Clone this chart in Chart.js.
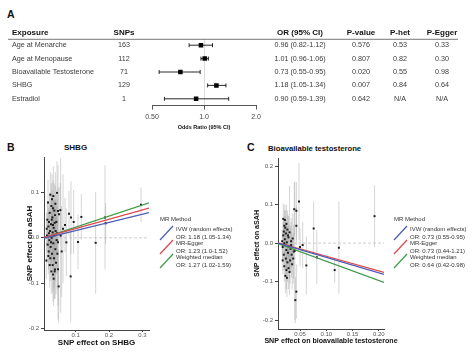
<!DOCTYPE html>
<html>
<head>
<meta charset="utf-8">
<script src="https://cdn.jsdelivr.net/npm/chart.js@4.4.0/dist/chart.umd.min.js"></script>
<style>
  body { margin: 0; background: #fff; width: 474px; height: 353px; overflow: hidden; position: relative;
         font-family: "Liberation Sans", Arial, sans-serif; }
  canvas { position: absolute; }
  .lbl { position: absolute; font-weight: bold; color: #111; line-height: 1; white-space: nowrap; }
</style>
</head>
<body>
<div class="lbl" style="left:7px;top:9px;font-size:10.5px">A</div>
<div class="lbl" style="left:7px;top:142px;font-size:10.5px">B</div>
<div class="lbl" style="left:247px;top:142px;font-size:10.5px">C</div>
<div class="lbl" style="left:64px;top:144px;font-size:8px">SHBG</div>
<div class="lbl" style="left:268px;top:145px;font-size:7.7px">Bioavailable testosterone</div>
<canvas id="forest" width="474" height="135" style="left:0;top:0"></canvas>
<canvas id="shbg" width="237" height="213" style="left:0;top:140px"></canvas>
<canvas id="testo" width="237" height="213" style="left:237px;top:140px"></canvas>
<script>
// ---- panel A: forest table ----
const exposures = ["Age at Menarche", "Age at Menopause", "Bioavailable Testosterone", "SHBG", "Estradiol"];
const snps = [163, 112, 71, 129, 1];
const orValues = [0.96, 1.01, 0.73, 1.18, 0.90];
const orLower = [0.82, 0.96, 0.55, 1.05, 0.59];
const orUpper = [1.12, 1.06, 0.95, 1.34, 1.39];
const pValues = ["0.576", "0.807", "0.020", "0.007", "0.642"];
const pHet = ["0.53", "0.82", "0.55", "0.84", "N/A"];
const pEgger = ["0.33", "0.30", "0.98", "0.64", "N/A"];
const headers = ["Exposure", "SNPs", "OR (95% CI)", "P-value", "P-het", "P-Egger"];
const forestTicks = [0.5, 1, 2];
const forestTickLabels = ["0.50", "1.0", "2.0"];

// ---- MR methods ----
const methods = ["IVW (random effects)", "MR-Egger", "Weighted median"];

// ---- panel B: SHBG ----
const shbgX = [0.296, 0.188, 0.190, 0.160, 0.117, 0.107, 0.094, 0.085, 0.086, 0.080, 0.072, 0.068, 0.054, 0.049, 0.044, 0.047, 0.037, 0.032, 0.055, 0.047, 0.062, 0.058,
  0.024, 0.017, 0.032, 0.047, 0.050, 0.037, 0.022, 0.012, 0.027,
  0.015, 0.018, 0.020, 0.021, 0.023, 0.025, 0.026, 0.028, 0.029, 0.030, 0.031, 0.033, 0.034, 0.035, 0.036, 0.038, 0.039, 0.040, 0.041, 0.042, 0.043,
  0.016, 0.019, 0.014, 0.013, 0.022, 0.024, 0.027, 0.029, 0.031, 0.034, 0.036, 0.026, 0.020, 0.018, 0.028, 0.032, 0.038, 0.044, 0.045, 0.039, 0.033];
const shbgY = [0.073, 0.045, 0.032, -0.011, 0.046, -0.009, 0.035, -0.085, 0.045, 0.053, -0.010, 0.028, 0.061, -0.107, 0.099, -0.069, -0.074, -0.081, 0.005, -0.010, 0.020, -0.030,
  0.095, 0.078, 0.065, 0.059, 0.052, 0.033, -0.060, -0.050, -0.074,
  0.040, 0.025, 0.010, -0.005, 0.015, -0.020, 0.030, 0.000, -0.035, 0.045, 0.012, -0.012, 0.022, -0.045, 0.005, 0.050, -0.025, 0.015, -0.055, 0.035, -0.005,
  -0.015, -0.030, 0.005, 0.020, 0.055, -0.045, 0.070, 0.085, -0.060, -0.090, 0.060, -0.010, 0.035, -0.040, 0.040, 0.028, -0.070, 0.010, -0.035, 0.075, 0.092];
const shbgCI = [0.038, 0.115, 0.045, 0.112, 0.05, 0.06, 0.07, 0.1, 0.08, 0.05, 0.075, 0.06, 0.06, 0.08, 0.07, 0.08, 0.06, 0.06, 0.17, 0.17, 0.12, 0.1,
  0.05, 0.05, 0.06, 0.05, 0.06, 0.05, 0.05, 0.04, 0.05,
  0.04, 0.04, 0.045, 0.045, 0.05, 0.05, 0.05, 0.055, 0.055, 0.06, 0.06, 0.06, 0.06, 0.065, 0.065, 0.065, 0.07, 0.07, 0.07, 0.07, 0.075,
  0.04, 0.04, 0.035, 0.035, 0.045, 0.05, 0.05, 0.055, 0.06, 0.06, 0.06, 0.05, 0.045, 0.04, 0.055, 0.06, 0.065, 0.075, 0.08, 0.07, 0.065];
const shbgSlopes = [0.18, 0.205, 0.244];
const shbgIntercepts = [-0.002, 0, -0.001];
const shbgOR = ["OR: 1.18 (1.05-1.34)", "OR: 1.23 (1.0-1.52)", "OR: 1.27 (1.02-1.59)"];
const shbgXTicks = [0.1, 0.2, 0.3];
const shbgXLabels = ["0.1", "0.2", "0.3"];
const shbgYTicks = [0.1, 0, -0.1, -0.2];
const shbgYLabels = ["0.1", "0.0", "-0.1", "-0.2"];

// ---- panel C: bioavailable testosterone ----
const testoX = [0.192, 0.124, 0.116, 0.082, 0.076, 0.062, 0.048, 0.041, 0.043, 0.039, 0.043, 0.043, 0.050, 0.040, 0.055,
  0.016, 0.017, 0.018, 0.019, 0.019, 0.020, 0.020, 0.021, 0.021, 0.022, 0.022, 0.023, 0.023, 0.024, 0.024, 0.025, 0.025, 0.026, 0.026, 0.027,
  0.028, 0.028, 0.029, 0.030, 0.031, 0.032, 0.033, 0.034, 0.035, 0.036, 0.037, 0.038,
  0.018, 0.017, 0.020, 0.022, 0.024, 0.027, 0.030, 0.033];
const testoY = [0.070, -0.012, -0.070, -0.037, 0.038, -0.058, 0.108, -0.148, -0.126, 0.088, 0.084, 0.045, -0.010, -0.020, -0.005,
  0.005, -0.010, 0.020, 0.030, -0.030, 0.045, -0.060, 0.060, 0.010, -0.005, -0.085, 0.025, -0.040, 0.050, -0.018, 0.002, -0.090, 0.035, -0.050, -0.025,
  0.015, -0.065, -0.008, 0.028, -0.045, -0.015, 0.005, -0.030, -0.055, 0.012, -0.040, -0.022,
  0.063, -0.045, 0.000, 0.040, -0.070, 0.020, -0.075, -0.005];
const testoCI = [0.08, 0.12, 0.033, 0.07, 0.07, 0.075, 0.1, 0.06, 0.07, 0.07, 0.075, 0.05, 0.05, 0.18, 0.06,
  0.03, 0.035, 0.035, 0.035, 0.04, 0.04, 0.04, 0.04, 0.04, 0.045, 0.045, 0.045, 0.045, 0.05, 0.05, 0.05, 0.05, 0.05, 0.05, 0.055,
  0.055, 0.055, 0.055, 0.12, 0.06, 0.06, 0.06, 0.06, 0.065, 0.065, 0.065, 0.07,
  0.04, 0.035, 0.04, 0.045, 0.05, 0.055, 0.06, 0.06];
const testoSlopes = [-0.40, -0.38, -0.50];
const testoIntercepts = [0.003, 0.004, 0.003];
const testoOR = ["OR: 0.73 (0.55-0.95)", "OR: 0.73 (0.44-1.21)", "OR: 0.64 (0.42-0.98)"];
const testoXTicks = [0.05, 0.10, 0.15, 0.20];
const testoXLabels = ["0.05", "0.10", "0.15", "0.20"];
const testoYTicks = [0.2, 0.1, 0, -0.1, -0.2];
const testoYLabels = ["0.2", "0.1", "0.0", "-0.1", "-0.2"];

const FONT = '"Liberation Sans", Arial, sans-serif';
Chart.defaults.font.family = FONT;
const methodColors = ["#4a5bb4", "#e0454b", "#3e9b49"];

// error bars and table text for panel A
const forestTable = {
  id: "forestTable",
  beforeDatasetsDraw(chart) {
    const { ctx, scales: { x, y } } = chart;
    ctx.save();
    ctx.strokeStyle = "#111";
    ctx.lineWidth = 0.9;
    orValues.forEach((v, i) => {
      const py = y.getPixelForValue(i);
      const x0 = x.getPixelForValue(orLower[i]);
      const x1 = x.getPixelForValue(orUpper[i]);
      ctx.beginPath();
      ctx.moveTo(x0, py); ctx.lineTo(x1, py);
      ctx.moveTo(x0, py - 2); ctx.lineTo(x0, py + 2);
      ctx.moveTo(x1, py - 2); ctx.lineTo(x1, py + 2);
      ctx.stroke();
    });
    ctx.restore();
  },
  afterDraw(chart) {
    const { ctx, scales: { y } } = chart;
    const colX = [12, 124, 300, 361, 400, 442];
    ctx.save();
    ctx.textBaseline = "middle";
    ctx.fillStyle = "#111";
    ctx.font = "bold 8px " + FONT;
    headers.forEach((h, c) => {
      ctx.textAlign = c === 0 ? "left" : "center";
      ctx.fillText(h, colX[c], 32.3);
    });
    ctx.strokeStyle = "#555";
    ctx.lineWidth = 0.8;
    ctx.beginPath();
    ctx.moveTo(8, 39.3); ctx.lineTo(458, 39.3);
    ctx.stroke();

    ctx.font = "7.2px " + FONT;
    ctx.fillStyle = "#3a3a3a";
    exposures.forEach((name, i) => {
      const py = y.getPixelForValue(i);
      const cells = [
        name,
        String(snps[i]),
        orValues[i].toFixed(2) + " (" + orLower[i].toFixed(2) + "-" + orUpper[i].toFixed(2) + ")",
        pValues[i], pHet[i], pEgger[i]
      ];
      cells.forEach((t, c) => {
        ctx.textAlign = c === 0 ? "left" : "center";
        ctx.fillText(t, colX[c], py);
      });
    });
    ctx.restore();
  }
};

new Chart(document.getElementById("forest"), {
  type: "scatter",
  data: {
    datasets: [{
      data: orValues.map((v, i) => ({ x: v, y: i })),
      pointStyle: "rect", pointRadius: 3.2, backgroundColor: "#000", borderWidth: 0
    }]
  },
  options: {
    responsive: false, animation: false, events: [],
    layout: { padding: { left: 152, right: 218, top: 38.5, bottom: 0 } },
    plugins: { legend: { display: false }, tooltip: { enabled: false } },
    scales: {
      x: {
        type: "logarithmic", min: 0.5, max: 2,
        afterBuildTicks: s => { s.ticks = forestTicks.map(v => ({ value: v })); },
        afterFit: s => { s.height = 29.5; },
        ticks: { callback: (v, i) => forestTickLabels[i], font: { size: 7 }, color: "#444", padding: 3, maxRotation: 0, autoSkip: false },
        grid: { color: c => (c.tick && c.tick.value === 1 ? "#dcdcdc" : "rgba(0,0,0,0)"), tickColor: "#555", tickLength: 4 },
        border: { display: true, color: "#555", width: 1 },
        title: { display: true, text: "Odds Ratio (95% CI)", color: "#111", font: { size: 5.5, weight: "bold" }, padding: { top: 2, bottom: 4 } }
      },
      y: { type: "linear", display: false, min: -0.5, max: 4.5, reverse: true }
    }
  },
  plugins: [forestTable]
});

// vertical CI bars behind the SNP points
const snpBars = {
  id: "snpBars",
  beforeDatasetsDraw(chart, args, opts) {
    const { ctx, scales: { x, y } } = chart;
    ctx.save();
    ctx.strokeStyle = "rgba(150,150,150,0.4)";
    ctx.lineWidth = 1;
    opts.xs.forEach((v, i) => {
      const px = x.getPixelForValue(v);
      ctx.beginPath();
      ctx.moveTo(px, y.getPixelForValue(opts.ys[i] - opts.ci[i]));
      ctx.lineTo(px, y.getPixelForValue(opts.ys[i] + opts.ci[i]));
      ctx.stroke();
    });
    ctx.restore();
  }
};

// MR method legend on the right, plus the x title (may be wider than the axis)
const mrLegend = {
  id: "mrLegend",
  afterDraw(chart, args, opts) {
    const { ctx, chartArea } = chart;
    const lx = chartArea.right + opts.dx;
    const cy = (chartArea.top + chartArea.bottom) / 2;
    ctx.save();
    ctx.font = "6px " + FONT;
    ctx.fillStyle = "#333";
    ctx.textBaseline = "middle";
    ctx.textAlign = "left";
    ctx.fillText("MR Method", lx, cy - 24);
    methods.forEach((m, i) => {
      const b = cy - 10.5 + 14 * i;
      ctx.strokeStyle = methodColors[i];
      ctx.lineWidth = 1.2;
      ctx.beginPath();
      ctx.moveTo(lx, b + 7); ctx.lineTo(lx + 13, b - 7);
      ctx.stroke();
      ctx.fillText(m, lx + 16, b - 3.5);
      ctx.fillText(opts.or[i], lx + 16, b + 4);
    });

    ctx.font = "bold " + opts.titleSize + "px " + FONT;
    ctx.fillStyle = "#111";
    ctx.textAlign = "center";
    ctx.fillText(opts.xTitle, (chartArea.left + chartArea.right) / 2, chartArea.bottom + 12.3);
    ctx.restore();
  }
};

function scatterPanel(id, p) {
  const lines = p.slopes.map((b, i) => ({
    data: p.xRange.map(x => ({ x: x, y: p.intercepts[i] + b * x })),
    showLine: true, borderColor: methodColors[i], borderWidth: 1.2, pointRadius: 0, order: 1
  }));
  const zero = {
    data: p.xRange.map(x => ({ x: x, y: 0 })),
    showLine: true, borderColor: "#c2c2c2", borderWidth: 0.8, borderDash: [3, 2], pointRadius: 0, order: 3
  };
  const points = {
    data: p.xs.map((x, i) => ({ x: x, y: p.ys[i] })),
    pointStyle: "rect", pointRadius: 1.4, backgroundColor: "#1c1c1c", borderWidth: 0, order: 2
  };
  const tickFont = { size: 6 };
  new Chart(document.getElementById(id), {
    type: "scatter",
    data: { datasets: [zero, points].concat(lines) },
    options: {
      responsive: false, animation: false, events: [],
      layout: { padding: p.pad },
      plugins: {
        legend: { display: false }, tooltip: { enabled: false },
        snpBars: { xs: p.xs, ys: p.ys, ci: p.ci },
        mrLegend: { dx: p.legendDx, or: p.or, xTitle: p.xTitle, titleSize: p.titleSize }
      },
      scales: {
        x: {
          min: p.xRange[0], max: p.xRange[1],
          afterBuildTicks: s => { s.ticks = p.xTicks.map(v => ({ value: v })); },
          afterFit: s => { s.height = p.xAxisH; },
          ticks: { callback: (v, i) => p.xLabels[i], font: tickFont, color: "#555", padding: 0, maxRotation: 0, autoSkip: false },
          grid: { drawOnChartArea: false, color: "#444", tickLength: 2 },
          border: { display: true, color: "#444", width: 1 }
        },
        y: {
          min: p.yRange[0], max: p.yRange[1],
          afterBuildTicks: s => { s.ticks = p.yTicks.map(v => ({ value: v })); },
          afterFit: s => { s.width = p.yAxisW; },
          ticks: { callback: (v, i) => p.yLabels[i], font: tickFont, color: "#555", padding: 2, autoSkip: false },
          grid: { drawOnChartArea: false, color: "#444", tickLength: 3 },
          border: { display: true, color: "#444", width: 1 },
          title: { display: true, text: "SNP effect on aSAH", color: "#111", font: { size: p.titleSize, weight: "bold" } }
        }
      }
    },
    plugins: [snpBars, mrLegend]
  });
}

scatterPanel("shbg", {
  xs: shbgX, ys: shbgY, ci: shbgCI,
  slopes: shbgSlopes, intercepts: shbgIntercepts, or: shbgOR,
  xRange: [0.005, 0.32], yRange: [-0.203, 0.178],
  xTicks: shbgXTicks, xLabels: shbgXLabels, yTicks: shbgYTicks, yLabels: shbgYLabels,
  xTitle: "SNP effect on SHBG", titleSize: 8,
  pad: { left: 21, top: 17, right: 88, bottom: 2 }, xAxisH: 21, yAxisW: 23, legendDx: 11
});

scatterPanel("testo", {
  xs: testoX, ys: testoY, ci: testoCI,
  slopes: testoSlopes, intercepts: testoIntercepts, or: testoOR,
  xRange: [0.008, 0.21], yRange: [-0.223, 0.221],
  xTicks: testoXTicks, xLabels: testoXLabels, yTicks: testoYTicks, yLabels: testoYLabels,
  xTitle: "SNP effect on bioavailable testosterone", titleSize: 7.1,
  pad: { left: 11.7, top: 18, right: 90, bottom: 2 }, xAxisH: 22, yAxisW: 29.3, legendDx: 10
});
</script>
</body>
</html>
